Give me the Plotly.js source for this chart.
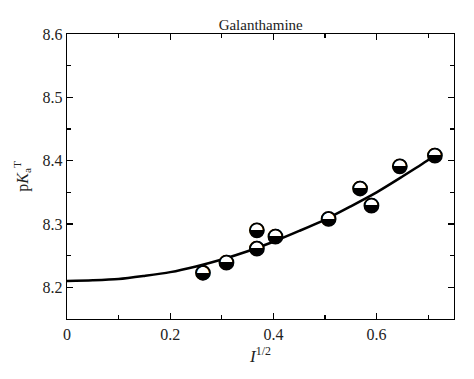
<!DOCTYPE html>
<html>
<head>
<meta charset="utf-8">
<script src="https://cdn.plot.ly/plotly-3.0.1.min.js"></script>
<style>html,body{margin:0;padding:0;background:#fff;}#chart{width:474px;height:379px;}</style>
</head>
<body>
<div id="chart"></div>
<script>
// Measured data points (I^1/2, pKa^T)
const pointX = [0.2635, 0.309, 0.368, 0.368, 0.404, 0.507, 0.568, 0.590, 0.645, 0.713];
const pointY = [8.223, 8.239, 8.290, 8.261, 8.280, 8.308, 8.356, 8.329, 8.391, 8.408];
// Fitted curve
const curveX = [0, 0.05, 0.1, 0.15, 0.2, 0.25, 0.3, 0.35, 0.4, 0.45, 0.5, 0.55, 0.6, 0.65, 0.7, 0.715];
const curveY = [8.210, 8.211, 8.213, 8.218, 8.224, 8.233, 8.244, 8.257, 8.272, 8.289, 8.307, 8.328, 8.350, 8.375, 8.401, 8.410];
const xTickVals = [0, 0.2, 0.4, 0.6];
const xTickText = ['0', '0.2', '0.4', '0.6'];
const yTickVals = [8.2, 8.3, 8.4, 8.5, 8.6];
const yTickText = ['8.2', '8.3', '8.4', '8.5', '8.6'];

const serif = '"Liberation Serif", "Times New Roman", serif';

const traces = [
  {
    x: curveX, y: curveY, mode: 'lines', type: 'scatter',
    line: {color: '#000', width: 2.5, shape: 'spline', smoothing: 0.8},
    hoverinfo: 'skip'
  },
  {
    x: pointX, y: pointY, mode: 'markers', type: 'scatter',
    marker: {symbol: 'circle', size: 14, color: '#fff', line: {color: '#000', width: 1.8}}
  },
  {
    x: pointX, y: pointY, mode: 'text', type: 'scatter',
    text: pointX.map(() => '\u25D2'),
    textposition: 'middle center',
    textfont: {family: 'DejaVu Sans', size: 19, color: '#000'}
  }
];

const axisCommon = {
  showgrid: false, zeroline: false, showline: true, linecolor: '#000', linewidth: 1.3,
  mirror: 'ticks', ticks: 'inside', ticklen: 6, tickwidth: 1.2, tickcolor: '#000',
  tickfont: {family: serif, size: 16, color: '#222'}
};

const layout = {
  width: 474, height: 379,
  margin: {l: 67, r: 20, t: 34, b: 60},
  paper_bgcolor: '#fff', plot_bgcolor: '#fff',
  showlegend: false,
  font: {family: serif, color: '#222'},
  title: {text: 'Galanthamine', font: {family: serif, size: 15, color: '#222'}, x: 0.55, xanchor: 'center', y: 0.935, yanchor: 'middle'},
  xaxis: Object.assign({}, axisCommon, {
    range: [0, 0.75], tickmode: 'array', tickvals: xTickVals, ticktext: xTickText,
    minor: {tickmode: 'linear', tick0: 0.1, dtick: 0.2, ticks: 'inside', ticklen: 4, tickwidth: 1.2, tickcolor: '#000'},
    title: {text: '<i>I</i><sup>1/2</sup>', font: {family: serif, size: 17, color: '#222'}, standoff: 8}
  }),
  yaxis: Object.assign({}, axisCommon, {
    range: [8.15, 8.6], tickmode: 'array', tickvals: yTickVals, ticktext: yTickText,
    minor: {tickmode: 'linear', tick0: 8.15, dtick: 0.1, ticks: 'inside', ticklen: 4, tickwidth: 1.2, tickcolor: '#000'},
    title: {text: 'p<i>K</i><sub>a</sub><sup>T</sup>', font: {family: serif, size: 16, color: '#222'}, standoff: 10}
  })
};

Plotly.newPlot('chart', traces, layout, {displayModeBar: false, staticPlot: true});
</script>
</body>
</html>
